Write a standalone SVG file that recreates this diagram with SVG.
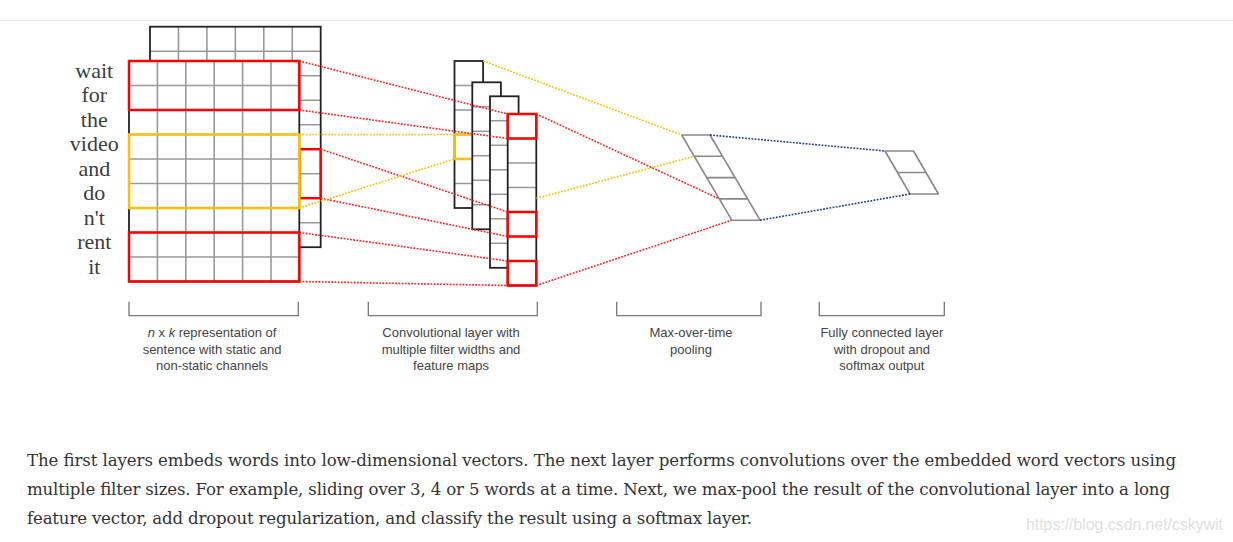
<svg xmlns="http://www.w3.org/2000/svg" width="1233" height="542" viewBox="0 0 1233 542">
<style>
.bg{fill:#fff}
.out{fill:none;stroke:#222;stroke-width:1.8}
.grid{fill:none;stroke:#999;stroke-width:1.6}
.red{fill:none;stroke:#ff0000;stroke-width:2.5}
.yel{fill:none;stroke:#ffc000;stroke-width:2.5}
.dr{fill:none;stroke:#ff2020;stroke-width:1.6;stroke-dasharray:1.8 1.4}
.dy{fill:none;stroke:#ffc000;stroke-width:1.6;stroke-dasharray:1.8 1.4}
.db{fill:none;stroke:#1f3c88;stroke-width:1.6;stroke-dasharray:1.8 1.4}
.pool{fill:none;stroke:#888;stroke-width:1.6;stroke-linejoin:round}
.word{font-family:"Liberation Serif",serif;font-size:22px;fill:#3d3d3d;text-anchor:middle}
.lab{font-family:"Liberation Sans",Arial,sans-serif;font-size:13px;fill:#444;text-anchor:middle}
.brk{fill:none;stroke:#777;stroke-width:1.3}
.body{font-family:"DejaVu Serif",serif;font-size:16.6px;fill:#333}
</style>
<line x1="0" y1="20.5" x2="1233" y2="20.5" stroke="#e8e8e8" stroke-width="1"/>

<g id="back-matrix">
<rect class="bg" x="150" y="26.7" width="170.7" height="220.5"/>
<path class="grid" d="M178.45,26.7V247.2M206.9,26.7V247.2M235.35,26.7V247.2M263.8,26.7V247.2M292.25,26.7V247.2M150,51.2H320.7M150,75.7H320.7M150,100.2H320.7M150,124.7H320.7M150,149.2H320.7M150,173.7H320.7M150,198.2H320.7M150,222.7H320.7"/>
<rect class="out" x="150" y="26.7" width="170.7" height="220.5"/>
<rect class="red" x="299.3" y="149.2" width="21.4" height="49"/>
</g>

<g id="front-matrix">
<rect class="bg" x="129" y="61" width="170.3" height="220.5"/>
<path class="grid" d="M157.4,61V281.5M185.8,61V281.5M214.2,61V281.5M242.6,61V281.5M271,61V281.5M129,85.5H299.3M129,110H299.3M129,134.5H299.3M129,159H299.3M129,183.5H299.3M129,208H299.3M129,232.5H299.3M129,257H299.3"/>
<rect class="out" x="129" y="61" width="170.3" height="220.5"/>
<rect class="red" x="129" y="61" width="170.3" height="49"/>
<rect class="yel" x="129" y="134.5" width="170.3" height="73.5"/>
<rect class="red" x="129" y="232.5" width="170.3" height="49"/>
</g>

<g id="words">
<text class="word" x="94.3" y="77.7">wait</text>
<text class="word" x="94.3" y="102.2">for</text>
<text class="word" x="94.3" y="126.7">the</text>
<text class="word" x="94.3" y="151.2">video</text>
<text class="word" x="94.3" y="175.7">and</text>
<text class="word" x="94.3" y="200.2">do</text>
<text class="word" x="94.3" y="224.7">n't</text>
<text class="word" x="94.3" y="249.2">rent</text>
<text class="word" x="94.3" y="273.7">it</text>
</g>

<g id="feature-map-1">
<rect class="bg" x="454.5" y="61" width="28.6" height="147"/>
<path class="grid" d="M454.5,85.5h28.6M454.5,110h28.6M454.5,134.5h28.6M454.5,159h28.6M454.5,183.5h28.6"/>
<rect class="out" x="454.5" y="61" width="28.6" height="147"/>
<rect class="yel" x="454.5" y="134.5" width="28.6" height="24.5"/>
</g>
<g id="feature-map-2">
<rect class="bg" x="472.3" y="82.3" width="28.6" height="147"/>
<path class="grid" d="M472.3,106.8h28.6M472.3,131.3h28.6M472.3,155.8h28.6M472.3,180.3h28.6M472.3,204.8h28.6"/>
<rect class="out" x="472.3" y="82.3" width="28.6" height="147"/>
</g>
<g id="feature-map-3">
<rect class="bg" x="490" y="96.3" width="28.6" height="171.5"/>
<path class="grid" d="M490,120.8h28.6M490,145.3h28.6M490,169.8h28.6M490,194.3h28.6M490,218.8h28.6M490,243.3h28.6"/>
<rect class="out" x="490" y="96.3" width="28.6" height="171.5"/>
</g>
<g id="feature-map-4">
<rect class="bg" x="507.7" y="114" width="28.6" height="171.5"/>
<path class="grid" d="M507.7,138.5h28.6M507.7,163h28.6M507.7,187.5h28.6M507.7,212h28.6M507.7,236.5h28.6M507.7,261h28.6"/>
<rect class="out" x="507.7" y="114" width="28.6" height="171.5"/>
<rect class="red" x="507.7" y="114" width="28.6" height="24.5"/>
<rect class="red" x="507.7" y="212" width="28.6" height="24.5"/>
<rect class="red" x="507.7" y="261" width="28.6" height="24.5"/>
</g>

<g id="pooling">
<path class="pool" d="M681.7,135H710L760.1,220.2H731.8Z M694.2,156.3H722.5M706.7,177.6H735M719.3,198.9H747.6"/>
</g>

<g id="fully-connected">
<path class="pool" d="M885,151H913.5L938.5,194H910Z M897.5,172.5H926"/>
</g>

<g id="connectors">
<path class="dr" d="M299.3,61L507.7,114M299.3,110L507.7,138.5M320.7,149.2L507.7,212M320.7,198.2L507.7,236.5M299.3,232.5L507.7,261M299.3,281.5L507.7,285.5"/>
<path class="dy" d="M299.3,134.5H454.5M299.3,208L454.5,159"/>
<path class="dy" d="M483.1,61L681.7,135M536.3,198.3L694.2,156.3"/>
<path class="dr" d="M536.3,114L719.3,198.9M536.3,285.5L731.8,220.2"/>
<path class="db" d="M710,135L885,151M760.1,220.2L910,194"/>
</g>

<g id="brackets">
<path class="brk" d="M129,301.7V315.7H298.3V301.7"/>
<path class="brk" d="M368.3,301.7V315.7H537.3V301.7"/>
<path class="brk" d="M616.7,301.7V315.7H761V301.7"/>
<path class="brk" d="M819.3,301.7V315.7H944.3V301.7"/>
</g>

<g id="labels">
<text class="lab" x="212" y="337"><tspan font-style="italic">n</tspan> x <tspan font-style="italic">k</tspan> representation of</text>
<text class="lab" x="212" y="353.5">sentence with static and</text>
<text class="lab" x="212" y="370">non-static channels</text>
<text class="lab" x="451" y="337">Convolutional layer with</text>
<text class="lab" x="451" y="353.5">multiple filter widths and</text>
<text class="lab" x="451" y="370">feature maps</text>
<text class="lab" x="691" y="337">Max-over-time</text>
<text class="lab" x="691" y="353.5">pooling</text>
<text class="lab" x="881.8" y="337">Fully connected layer</text>
<text class="lab" x="881.8" y="353.5">with dropout and</text>
<text class="lab" x="881.8" y="370">softmax output</text>
</g>

<g id="paragraph">
<text class="body" x="27" y="465.7" textLength="1149" lengthAdjust="spacing">The first layers embeds words into low-dimensional vectors. The next layer performs convolutions over the embedded word vectors using</text>
<text class="body" x="27" y="494.7" textLength="1143" lengthAdjust="spacing">multiple filter sizes. For example, sliding over 3, 4 or 5 words at a time. Next, we max-pool the result of the convolutional layer into a long</text>
<text class="body" x="27" y="523.7" textLength="725" lengthAdjust="spacing">feature vector, add dropout regularization, and classify the result using a softmax layer.</text>
</g>
<text x="1026" y="530" font-family="Liberation Sans, Arial, sans-serif" font-size="16" fill="#e0e0e0" textLength="197" lengthAdjust="spacingAndGlyphs">https://blog.csdn.net/cskywit</text>
</svg>
